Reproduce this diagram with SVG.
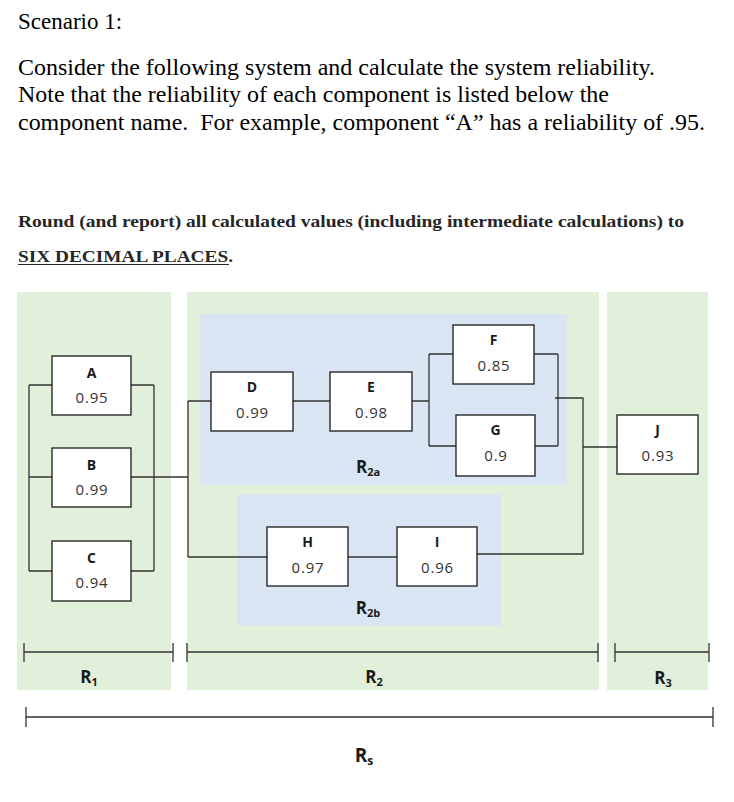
<svg xmlns="http://www.w3.org/2000/svg" width="734" height="802" viewBox="0 0 734 802">
<style>
.t{font-family:"Liberation Serif","Times New Roman",serif;fill:#000}
.b{font-family:"Liberation Serif","Times New Roman",serif;font-weight:bold;fill:#262626}
.green{fill:#e2efda}
.blue{fill:#dae5f3}
.box{fill:#fff;stroke:#1a1a1a;stroke-width:1.3}
.lbl{font-family:"Open Sans","DejaVu Sans",sans-serif;font-weight:bold;font-size:14px;fill:#1a1a1a;text-anchor:middle}
.val{font-family:"Open Sans","DejaVu Sans",sans-serif;font-size:15px;letter-spacing:0.8px;fill:#333;text-anchor:middle}
.r{font-family:"Open Sans","DejaVu Sans",sans-serif;font-weight:bold;font-size:17px;fill:#1a1a1a;text-anchor:middle}
.sub{font-size:11px}
.ln{fill:none;stroke:#333;stroke-width:1.3}
</style>
<rect width="734" height="802" fill="#fff"/>
<g id="text">
<text class="t" x="18" y="29" font-size="23">Scenario 1:</text>
<text class="t" x="18" y="75" font-size="23" textLength="637" lengthAdjust="spacingAndGlyphs">Consider the following system and calculate the system reliability.</text>
<text class="t" x="18" y="102" font-size="23" textLength="591" lengthAdjust="spacingAndGlyphs">Note that the reliability of each component is listed below the</text>
<text class="t" x="18" y="130" font-size="23" textLength="687" lengthAdjust="spacingAndGlyphs" xml:space="preserve">component name.  For example, component “A” has a reliability of .95.</text>
<text class="b" x="18" y="227" font-size="17.5" textLength="666" lengthAdjust="spacingAndGlyphs">Round (and report) all calculated values (including intermediate calculations) to</text>
<text class="b" x="18" y="262" font-size="17.5" textLength="215" lengthAdjust="spacingAndGlyphs">SIX DECIMAL PLACES.</text>
<line x1="18" y1="264.5" x2="229" y2="264.5" stroke="#262626" stroke-width="1.2"/>
</g>
<g id="panels">
<rect class="green" x="17" y="292" width="154" height="398"/>
<rect class="green" x="187" y="292" width="412" height="398"/>
<rect class="green" x="607" y="292" width="101" height="398"/>
<rect class="blue" x="200" y="314" width="367" height="171"/>
<rect class="blue" x="237" y="494" width="264" height="132"/>
</g>
<g id="connectors">
<path class="ln" d="M29,385 V571 M29,385 H52 M29,477 H52 M29,571 H52"/>
<path class="ln" d="M154,385 V571 M131,385 H154 M131,571 H154 M131,477 H188"/>
<path class="ln" d="M188,401 V557 M188,401 H211 M293,401 H330 M412,401 H429 M188,557 H267 M348,557 H397"/>
<path class="ln" d="M429,354 V446 M429,354 H453 M429,446 H456 M534,354 H558 M535,446 H558 M558,354 V446"/>
<path class="ln" d="M555,398 H583 V554 H477 M583,447 H617"/>
</g>
<g id="node-A"><rect class="box" x="52" y="356" width="79" height="59"/><text class="lbl" x="91.5" y="378">A</text><text class="val" x="92" y="403">0.95</text></g>
<g id="node-B"><rect class="box" x="52" y="448" width="79" height="59"/><text class="lbl" x="91.5" y="470">B</text><text class="val" x="92" y="495">0.99</text></g>
<g id="node-C"><rect class="box" x="52" y="541" width="79" height="60"/><text class="lbl" x="91.5" y="563">C</text><text class="val" x="92" y="588">0.94</text></g>
<g id="node-D"><rect class="box" x="211" y="372" width="82" height="59"/><text class="lbl" x="252" y="392">D</text><text class="val" x="252.5" y="418">0.99</text></g>
<g id="node-E"><rect class="box" x="330" y="372" width="82" height="59"/><text class="lbl" x="371" y="392">E</text><text class="val" x="371.5" y="418">0.98</text></g>
<g id="node-F"><rect class="box" x="453" y="325" width="81" height="59"/><text class="lbl" x="493.5" y="345">F</text><text class="val" x="494" y="371">0.85</text></g>
<g id="node-G"><rect class="box" x="456" y="415" width="79" height="61"/><text class="lbl" x="495.5" y="435">G</text><text class="val" x="496" y="461">0.9</text></g>
<g id="node-H"><rect class="box" x="267" y="527" width="81" height="59"/><text class="lbl" x="307.5" y="547">H</text><text class="val" x="308" y="573">0.97</text></g>
<g id="node-I"><rect class="box" x="397" y="527" width="80" height="59"/><text class="lbl" x="437" y="547">I</text><text class="val" x="437.5" y="573">0.96</text></g>
<g id="node-J"><rect class="box" x="617" y="415" width="81" height="59"/><text class="lbl" x="657.5" y="435">J</text><text class="val" x="658" y="461">0.93</text></g>
<g id="labels">
<text class="r" x="368" y="473" style="font-size:17px">R<tspan class="sub" dy="3">2a</tspan></text>
<text class="r" x="368" y="614" style="font-size:17px">R<tspan class="sub" dy="3">2b</tspan></text>
<text class="r" x="89" y="683">R<tspan class="sub" dy="3">1</tspan></text>
<text class="r" x="374" y="683">R<tspan class="sub" dy="3">2</tspan></text>
<text class="r" x="663" y="684">R<tspan class="sub" dy="3">3</tspan></text>
<text class="r" x="364" y="762" style="font-size:19px">R<tspan dy="3" style="font-size:12px">s</tspan></text>
</g>
<g id="brackets">
<path class="ln" d="M24,652 H173 M24,643 V662 M173,643 V662"/>
<path class="ln" d="M187,652 H598 M187,643 V662 M598,643 V662"/>
<path class="ln" d="M615,652 H709 M615,643 V662 M709,643 V662"/>
<path class="ln" d="M26,717 H713 M26,707 V727 M713,707 V727"/>
</g>
</svg>
